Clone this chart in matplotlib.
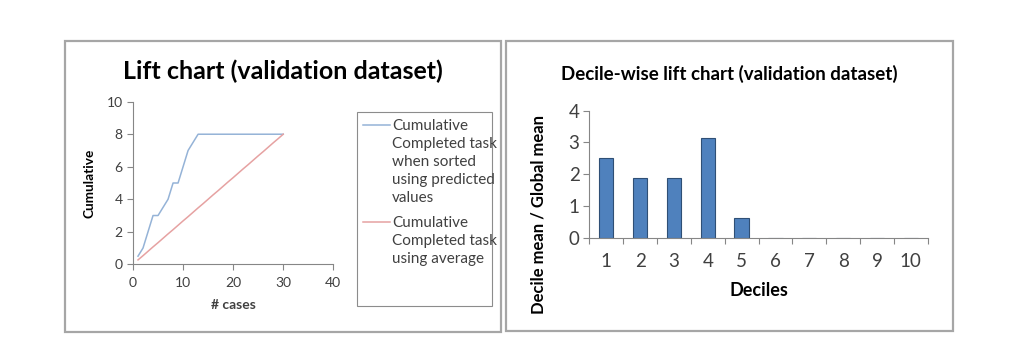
import matplotlib
matplotlib.use("Agg")
import matplotlib.pyplot as plt
from matplotlib.patches import Rectangle
from matplotlib.lines import Line2D

plt.rcParams['font.family'] = ['Lato', 'DejaVu Sans']

# ---- data: lift chart
cases = list(range(1, 31))
cum_predicted = [0.5, 1, 2, 3, 3, 3.5, 4, 5, 5, 6, 7, 7.5, 8, 8, 8,
                 8, 8, 8, 8, 8, 8, 8, 8, 8, 8, 8, 8, 8, 8, 8]
cum_average = [0.27, 0.53, 0.80, 1.07, 1.33, 1.60, 1.87, 2.13, 2.40, 2.67,
               2.93, 3.20, 3.47, 3.73, 4.00, 4.27, 4.53, 4.80, 5.07, 5.33,
               5.60, 5.87, 6.13, 6.40, 6.67, 6.93, 7.20, 7.47, 7.73, 8.00]
legend_labels = ["Cumulative\nCompleted task\nwhen sorted\nusing predicted\nvalues",
                 "Cumulative\nCompleted task\nusing average"]

# ---- data: decile-wise lift
deciles = [1, 2, 3, 4, 5, 6, 7, 8, 9, 10]
decile_lift = [2.5, 1.875, 1.875, 3.125, 0.625, 0, 0, 0, 0, 0]

W, H = 1024, 353
fig = plt.figure(figsize=(W / 100, H / 100), dpi=100)
fig.patch.set_facecolor('white')

def px(x0, y0, x1, y1):
    # pixel box (top-left origin) -> figure fraction rect
    return [x0 / W, 1 - y1 / H, (x1 - x0) / W, (y1 - y0) / H]

tick_col = '#404040'
axis_col = '#868686'

# ---- panel borders
for (x0, y0, x1, y1) in [(65, 41, 501, 331.5), (506, 41, 952.5, 331)]:
    fig.add_artist(Rectangle((x0 / W, 1 - y1 / H), (x1 - x0) / W, (y1 - y0) / H,
                             transform=fig.transFigure, fill=False,
                             edgecolor='#a6a6a6', linewidth=1.6))

# ---- left: lift chart
ax1 = fig.add_axes(px(133, 101.7, 333.3, 264.3))
blue = '#95b3d7'
red = '#e6a2a2'
ax1.plot(cases, cum_predicted, color=blue, linewidth=1.1)
ax1.plot(cases, cum_average, color=red, linewidth=1.1)
ax1.set_xlim(0, 40)
ax1.set_ylim(0, 10)
ax1.set_xticks([0, 10, 20, 30, 40])
ax1.set_yticks([0, 2, 4, 6, 8, 10])
for s in ['top', 'right']:
    ax1.spines[s].set_visible(False)
for s in ['left', 'bottom']:
    ax1.spines[s].set_color(axis_col)
    ax1.spines[s].set_linewidth(0.8)
ax1.tick_params(axis='both', colors=axis_col, labelcolor=tick_col, labelsize=10,
                length=4, width=0.8)
ax1.tick_params(axis='x', pad=5)
ax1.set_xlabel('# cases', fontsize=10, fontweight='bold', color=tick_col, labelpad=7)
ax1.set_ylabel('Cumulative', fontsize=9.8, fontweight='bold', color='black', labelpad=8)
fig.text(283 / W, 1 - 71 / H, 'Lift chart (validation dataset)', ha='center', va='center',
         fontsize=18, fontweight='bold')

# ---- left: legend drawn like Excel (line aligned to first text line)
fig.add_artist(Rectangle((356.7 / W, 1 - 305.7 / H), (492 - 356.7) / W, (305.7 - 112.3) / H,
                         transform=fig.transFigure, fill=False,
                         edgecolor='#8c8c8c', linewidth=0.8))
for label, col, ytop in zip(legend_labels, [blue, red], [125, 222]):
    fig.add_artist(Line2D([363 / W, 390 / W], [1 - ytop / H, 1 - ytop / H],
                          transform=fig.transFigure, color=col, linewidth=1.1))
    fig.text(392 / W, 1 - (ytop - 6) / H, label, ha='left', va='top', fontsize=11,
             color=tick_col, linespacing=1.36)

# ---- right: decile-wise lift chart
ax2 = fig.add_axes(px(589.3, 110.7, 927.7, 237.7))
ax2.bar(deciles, decile_lift, width=0.42, color='#4f81bd', edgecolor='#2f4f75',
        linewidth=0.8)
ax2.set_xlim(0.5, 10.5)
ax2.set_ylim(0, 4)
ax2.set_yticks([0, 1, 2, 3, 4])
ax2.set_xticks([d + 0.5 for d in [0] + deciles])
ax2.set_xticklabels([])
ax2.set_xticks(deciles, minor=True)
ax2.set_xticklabels([str(d) for d in deciles], minor=True)
for s in ['top', 'right']:
    ax2.spines[s].set_visible(False)
for s in ['left', 'bottom']:
    ax2.spines[s].set_color(axis_col)
    ax2.spines[s].set_linewidth(0.8)
ax2.tick_params(axis='x', which='major', colors=axis_col, length=4, width=0.8)
ax2.tick_params(axis='x', which='minor', length=0, labelsize=13.5, labelcolor=tick_col, pad=11)
ax2.tick_params(axis='y', colors=axis_col, labelcolor=tick_col, labelsize=13.5,
                length=4, width=0.8, pad=3)
ax2.set_xlabel('Deciles', fontsize=13, fontweight='bold', labelpad=9)
ax2.set_ylabel('Decile mean / Global mean', fontsize=12, fontweight='bold')
ax2.yaxis.set_label_coords(-0.125, 0.18)
fig.text(729 / W, 1 - 73.5 / H, 'Decile-wise lift chart (validation dataset)', ha='center',
         va='center', fontsize=13.5, fontweight='bold')

fig.savefig('out.png', dpi=100, facecolor='white')
